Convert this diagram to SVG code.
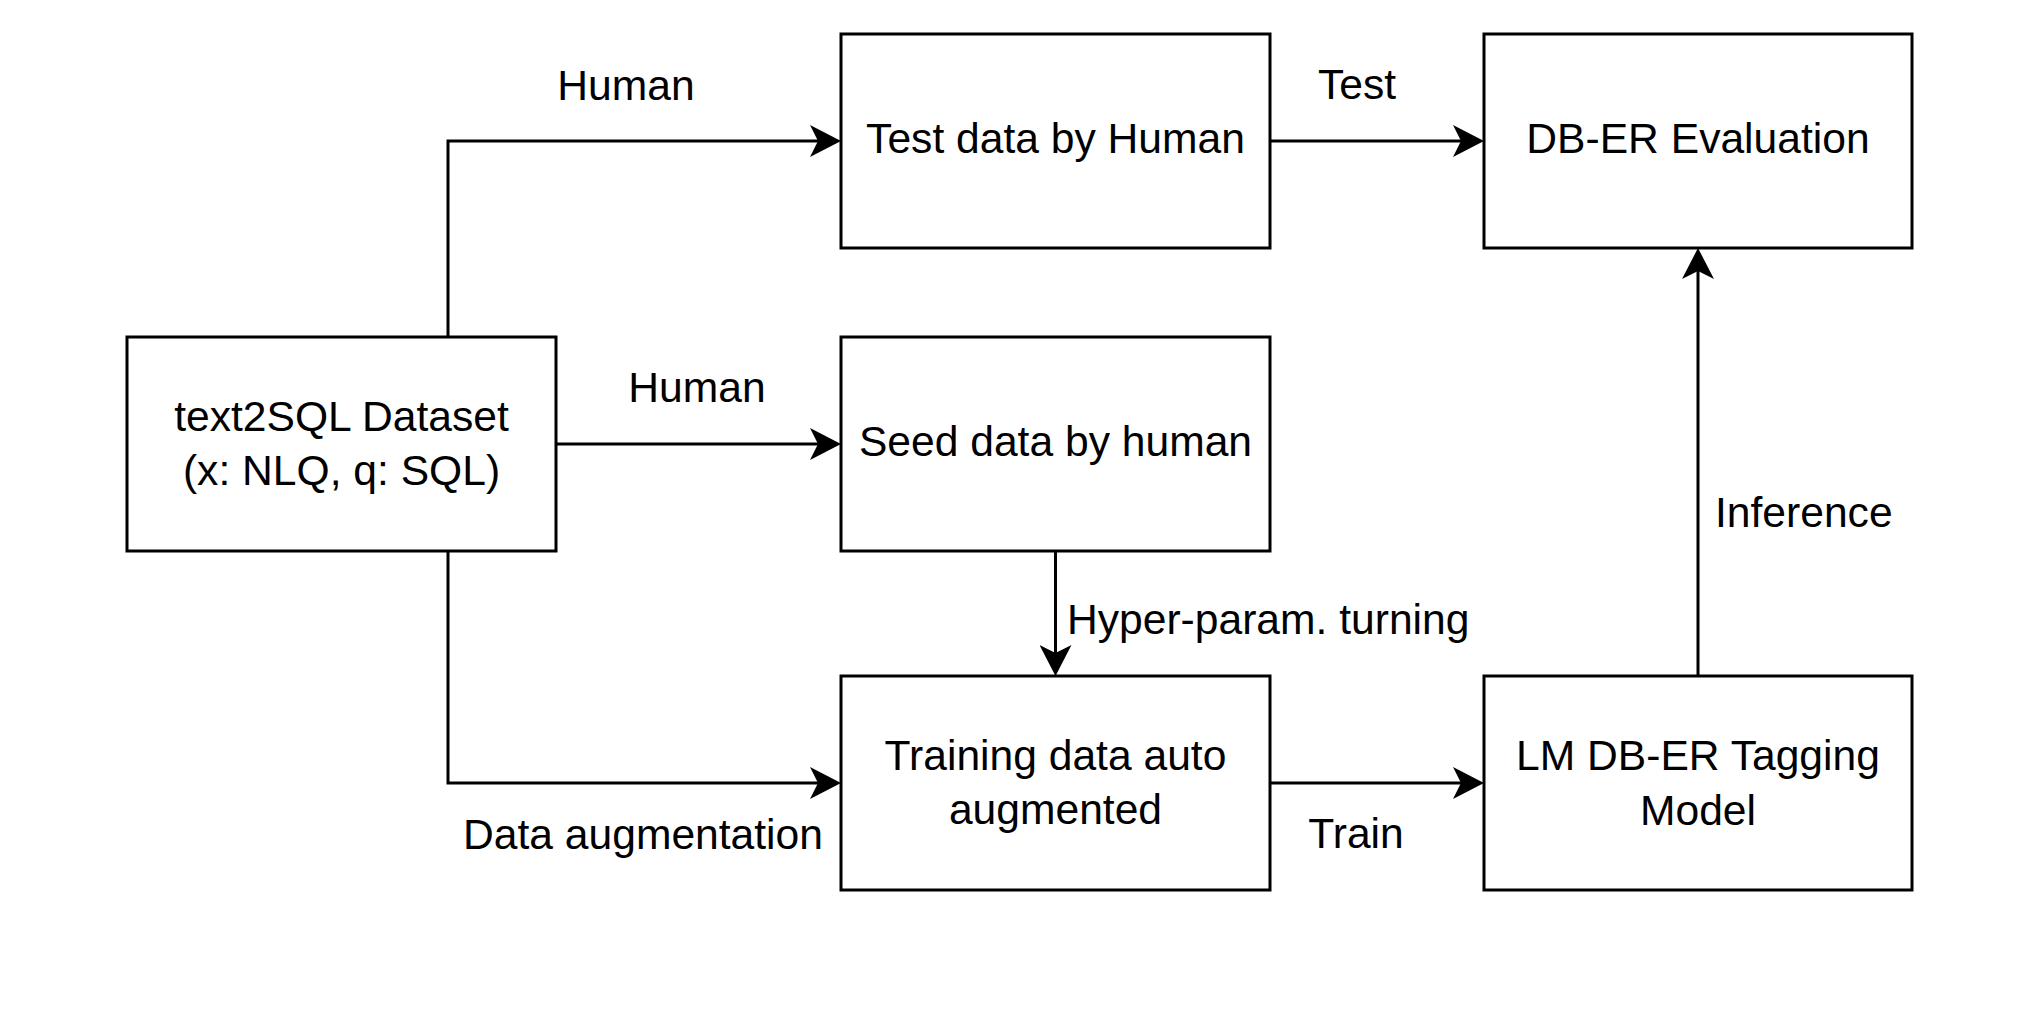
<svg xmlns="http://www.w3.org/2000/svg" width="2040" height="1032" viewBox="0 0 2040 1032">
<style>
.box{fill:#fff;stroke:#000;stroke-width:3}
.edge{fill:none;stroke:#000;stroke-width:3}
text{font-family:"Liberation Sans",Arial,sans-serif;font-size:42.6px;fill:#000}
.c{text-anchor:middle}
</style>
<defs>
<marker id="arr" markerUnits="userSpaceOnUse" viewBox="0 0 32 32" markerWidth="32" markerHeight="32" refX="8" refY="16" orient="auto">
<path d="M31,16 L0,0 L8,16 L0,32 Z" fill="#000"/>
</marker>
</defs>
<rect width="2040" height="1032" fill="#fff"/>
<g id="connectors">
<path class="edge" d="M448,337 V141 H818" marker-end="url(#arr)"/>
<path class="edge" d="M1270,141 H1461" marker-end="url(#arr)"/>
<path class="edge" d="M556,444 H818" marker-end="url(#arr)"/>
<path class="edge" d="M1055.5,551 V653" marker-end="url(#arr)"/>
<path class="edge" d="M448,551 V783 H818" marker-end="url(#arr)"/>
<path class="edge" d="M1270,783 H1461" marker-end="url(#arr)"/>
<path class="edge" d="M1698,676 V271" marker-end="url(#arr)"/>
<text class="c" x="626" y="100">Human</text>
<text class="c" x="1357" y="99">Test</text>
<text class="c" x="697" y="402">Human</text>
<text x="1067" y="634">Hyper-param. turning</text>
<text x="1715" y="527">Inference</text>
<text class="c" x="643" y="849">Data augmentation</text>
<text class="c" x="1356" y="848">Train</text>
</g>
<g id="test-data">
<rect class="box" x="841" y="34" width="429" height="214"/>
<text class="c" x="1055.5" y="153">Test data by Human</text>
</g>
<g id="dber-eval">
<rect class="box" x="1484" y="34" width="428" height="214"/>
<text class="c" x="1698" y="153">DB-ER Evaluation</text>
</g>
<g id="dataset">
<rect class="box" x="127" y="337" width="429" height="214"/>
<text class="c" x="341.5" y="431">text2SQL Dataset</text>
<text class="c" x="341.5" y="485">(x: NLQ, q: SQL)</text>
</g>
<g id="seed-data">
<rect class="box" x="841" y="337" width="429" height="214"/>
<text class="c" x="1055.5" y="456">Seed data by human</text>
</g>
<g id="training-data">
<rect class="box" x="841" y="676" width="429" height="214"/>
<text class="c" x="1055.5" y="770">Training data auto</text>
<text class="c" x="1055.5" y="824">augmented</text>
</g>
<g id="lm-model">
<rect class="box" x="1484" y="676" width="428" height="214"/>
<text class="c" x="1698" y="770">LM DB-ER Tagging</text>
<text class="c" x="1698" y="825">Model</text>
</g>
</svg>
